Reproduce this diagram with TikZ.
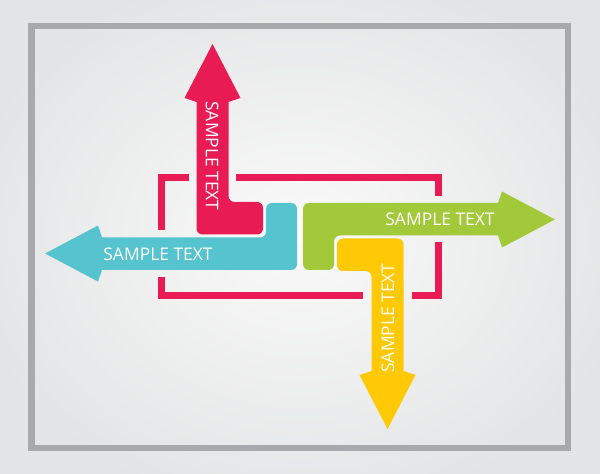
\documentclass[tikz,border=0pt]{standalone}
\usepackage{fontspec}
\setmainfont{Open Sans}
\definecolor{cRed}{HTML}{E91B55}
\definecolor{cCyan}{HTML}{55C4CF}
\definecolor{cGreen}{HTML}{A2C93A}
\definecolor{cYellow}{HTML}{FFCA05}
\definecolor{cGray}{HTML}{A7A9AB}
\definecolor{bgIn}{HTML}{FAFAFA}
\definecolor{bgOut}{HTML}{E3E4E5}
\tikzset{
  lbl/.style={text=white, font=\fontsize{17.5}{20}\selectfont, inner sep=0pt},
  pinkline/.style={draw=cRed, line width=7, line join=miter, line cap=butt},
}
\begin{document}
\begin{tikzpicture}[x=1bp,y=-1bp]
\useasboundingbox (0,0) rectangle (600,474);
\shade[inner color=bgIn, outer color=bgOut] (-40,-40) rectangle (640,514);
% gray frame
\draw[cGray, line width=6.5] (31.5,26) rectangle (568,448);
% pink frame
\draw[pinkline] (189,177.5) -- (161.5,177.5) -- (161.5,230);
\draw[pinkline] (161.5,277) -- (161.5,295.5) -- (363,295.5);
\draw[pinkline] (412,295.5) -- (438.5,295.5) -- (438.5,242);
\draw[pinkline] (438.5,196) -- (438.5,177.5) -- (236,177.5);
\begin{scope}[shift={(300,236.5)}]
  % green (right)
  \fill[cGreen] (255,-17) -- (202,11) -- (198,-1) -- (100,-1) [rounded corners=6] -- (34,-1) -- (34,33.5) -- (3,33.5) -- (3,-33.5) -- (100,-33.5) [sharp corners] -- (198,-33.5) -- (202,-45) -- cycle;
  % cyan (left)
  \begin{scope}[rotate=180]
  \fill[cCyan] (255,-17) -- (202,11) -- (198,-1) -- (100,-1) [rounded corners=6] -- (34,-1) -- (34,33.5) -- (3,33.5) -- (3,-33.5) -- (100,-33.5) [sharp corners] -- (198,-33.5) -- (202,-45) -- cycle;
  \end{scope}
  % yellow (down)
  \fill[cYellow] (87.5,192.5) -- (59.5,138.5) -- (71.5,134.5) -- (71.5,100) [rounded corners=6] -- (71.5,34.5) -- (37,34.5) -- (37,2) -- (103.5,2) -- (103.5,100) [sharp corners] -- (103.5,134.5) -- (115.5,138.5) -- cycle;
  % red (up)
  \begin{scope}[rotate=180]
  \fill[cRed] (87.5,192.5) -- (59.5,138.5) -- (71.5,134.5) -- (71.5,100) [rounded corners=6] -- (71.5,34.5) -- (37,34.5) -- (37,2) -- (103.5,2) -- (103.5,100) [sharp corners] -- (103.5,134.5) -- (115.5,138.5) -- cycle;
  \end{scope}
\end{scope}
% labels
\node[lbl] (tcyan) at (158,254) {SAMPLE TEXT};
\node[lbl] (tgreen) at (440,219.5) {SAMPLE TEXT};
\node[lbl, rotate=-90] (tred) at (212,156) {SAMPLE TEXT};
\node[lbl, rotate=90] (tyellow) at (388,318) {SAMPLE TEXT};
\end{tikzpicture}
\end{document}
